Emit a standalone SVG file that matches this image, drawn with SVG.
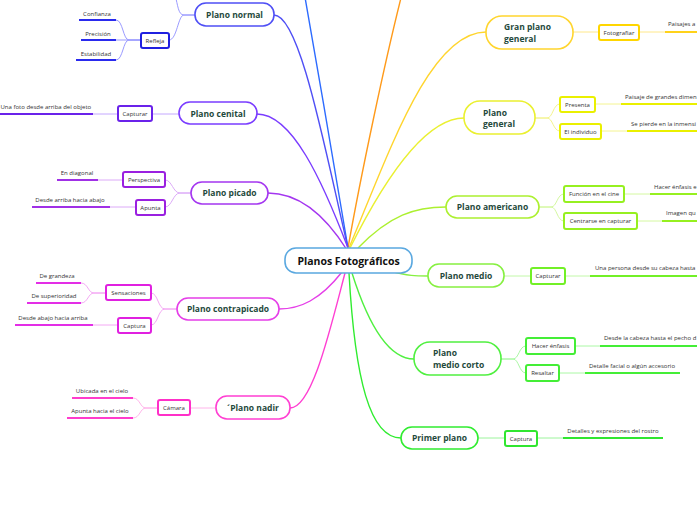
<svg xmlns="http://www.w3.org/2000/svg" width="697" height="520" viewBox="0 0 697 520">
<style>
.bg{fill:#fff}
.m{fill:#fff;stroke-width:1.6}
.s{fill:#fff;stroke-width:2}
.mt{font-family:"Open Sans","Noto Sans",sans-serif;font-weight:700;font-size:8.5px;fill:#1f4a3c;text-anchor:middle}
.ml{font-family:"Open Sans","Noto Sans",sans-serif;font-weight:700;font-size:8.5px;fill:#1f4a3c}
.ct{font-family:"Open Sans","Noto Sans",sans-serif;font-size:6px;fill:#333;text-anchor:middle}
.lt{font-family:"Open Sans","Noto Sans",sans-serif;font-size:6px;fill:#333;text-anchor:middle}
.ls{font-family:"Open Sans","Noto Sans",sans-serif;font-size:6px;fill:#333}
.c{fill:none;stroke-width:1.4}
.f{fill:none;stroke-width:1}
.u{fill:none;stroke-width:2}
</style>
<rect class="bg" x="0" y="0" width="697" height="520"/>
<g id="connectors">
  <!-- main branches -->
  <path class="c" stroke="#ff9a1a" d="M348,248 C360,180 385,60 403,-10"/>
  <path class="c" stroke="#2d6bff" d="M348,248 C336,175 316,60 302,-20"/>
  <path class="c" stroke="#4f4ff5" d="M348,248 C325,150 300,15 274,15"/>
  <path class="c" stroke="#7a3cff" d="M348,248 C322,180 292,114 257,114"/>
  <path class="c" stroke="#a436f0" d="M347,250 C325,215 300,193 268,193"/>
  <path class="c" stroke="#e53ee8" d="M342,272 C320,300 300,309 279,309"/>
  <path class="c" stroke="#ff3fd2" d="M345,273 C330,330 312,408 290,408"/>
  <path class="c" stroke="#ffd52e" d="M349,248 C390,150 430,32 486,32"/>
  <path class="c" stroke="#eaf030" d="M350,248 C385,178 425,118 464,118"/>
  <path class="c" stroke="#acf030" d="M358,248 C390,215 415,207 446,207"/>
  <path class="c" stroke="#86f040" d="M390,271 C408,276 416,276 428,276"/>
  <path class="c" stroke="#50f040" d="M352,273 C370,330 390,359 414,359"/>
  <path class="c" stroke="#30ec30" d="M349,273 C355,380 370,438 401,438"/>

  <!-- Plano normal -->
  <path class="f" stroke="#9a9aff" d="M195,15 L184,15 C178,15 178,5 175,-5"/>
  <path class="f" stroke="#9a9aff" d="M195,15 L184,15 C178,15 177,40 169,40"/>
  <path class="f" stroke="#9a9aff" d="M141,40 L129,40 C123,40 123,20 116,20"/>
  <path class="f" stroke="#9a9aff" d="M141,40 L116,40"/>
  <path class="f" stroke="#9a9aff" d="M141,40 L129,40 C123,40 123,60 116,60"/>
  <path class="u" stroke="#2a2aee" d="M79,20 H116 M81,40 H116 M76,60 H116"/>

  <!-- Plano cenital -->
  <path class="f" stroke="#c4a8ff" d="M179,114 H152 M118,114 H93"/>
  <path class="u" stroke="#6a22ea" d="M0,114 H93"/>

  <!-- Plano picado -->
  <path class="f" stroke="#dcaaf8" d="M191,193 L180,193 C173,193 172,180 165,180"/>
  <path class="f" stroke="#dcaaf8" d="M191,193 L180,193 C173,193 172,207 165,207"/>
  <path class="f" stroke="#dcaaf8" d="M123,180 H98 M136,207 H110"/>
  <path class="u" stroke="#a030e6" d="M57,180 H98 M32,207 H110"/>

  <!-- Plano contrapicado -->
  <path class="f" stroke="#f4a8f4" d="M177,309 L165,309 C158,309 158,293 151,293"/>
  <path class="f" stroke="#f4a8f4" d="M177,309 L165,309 C158,309 158,325 151,325"/>
  <path class="f" stroke="#f4a8f4" d="M106,293 L94,293 C88,293 88,283 81,283"/>
  <path class="f" stroke="#f4a8f4" d="M106,293 L94,293 C88,293 88,303 81,303"/>
  <path class="f" stroke="#f4a8f4" d="M118,325 H93"/>
  <path class="u" stroke="#e32ee6" d="M36,283 H81 M27,303 H81 M15,325 H93"/>

  <!-- Plano nadir -->
  <path class="f" stroke="#ffb4ea" d="M216,408 H190"/>
  <path class="f" stroke="#ffb4ea" d="M158,408 L146,408 C140,408 140,398 133,398"/>
  <path class="f" stroke="#ffb4ea" d="M158,408 L146,408 C140,408 140,418 133,418"/>
  <path class="u" stroke="#ff3ccc" d="M72,398 H133 M67,418 H133"/>

  <!-- Gran plano general -->
  <path class="f" stroke="#ffe88a" d="M573,32 H599 M639,32 H665"/>
  <path class="u" stroke="#ffd21a" d="M665,32 H700"/>

  <!-- Plano general -->
  <path class="f" stroke="#f4f490" d="M535,118 L547,118 C553,118 553,104 560,104"/>
  <path class="f" stroke="#f4f490" d="M535,118 L547,118 C553,118 553,131 560,131"/>
  <path class="f" stroke="#f4f490" d="M595,104 H621 M601,131 H627"/>
  <path class="u" stroke="#eaf000" d="M621,104 H700 M627,131 H700"/>

  <!-- Plano americano -->
  <path class="f" stroke="#d4f8a0" d="M539,207 L551,207 C557,207 557,194 564,194"/>
  <path class="f" stroke="#d4f8a0" d="M539,207 L551,207 C557,207 557,221 564,221"/>
  <path class="f" stroke="#d4f8a0" d="M624,194 H650 M637,221 H662"/>
  <path class="u" stroke="#96f020" d="M650,194 H700 M662,221 H700"/>

  <!-- Plano medio -->
  <path class="f" stroke="#c2f8a8" d="M504,276 H531 M565,276 H590"/>
  <path class="u" stroke="#72f026" d="M590,276 H700"/>

  <!-- Plano medio corto -->
  <path class="f" stroke="#aaf8a4" d="M501,359 L513,359 C519,359 519,346 526,346"/>
  <path class="f" stroke="#aaf8a4" d="M501,359 L513,359 C519,359 519,373 526,373"/>
  <path class="f" stroke="#aaf8a4" d="M575,346 H600 M559,373 H585"/>
  <path class="u" stroke="#44ee36" d="M600,346 H700 M585,373 H680"/>

  <!-- Primer plano -->
  <path class="f" stroke="#9cf49c" d="M478,438 H505 M537,438 H563"/>
  <path class="u" stroke="#30e630" d="M563,438 H663"/>
</g>

<g id="center">
  <rect class="m" x="285" y="248" width="127" height="25" rx="11" stroke="#5aa8e0"/>
  <text x="348.5" y="264.5" font-family="'Open Sans','Noto Sans',sans-serif" font-weight="700" font-size="10.5" fill="#111" text-anchor="middle">Planos Fotográficos</text>
</g>

<g id="plano-normal">
  <rect class="m" x="195" y="3" width="79" height="23" rx="11" stroke="#4f4ff5"/>
  <text class="mt" x="234.5" y="18">Plano normal</text>
  <g id="refleja">
    <rect class="s" x="141" y="33" width="28" height="15" rx="2" stroke="#2020e0"/>
    <text class="ct" x="155" y="42.5">Refleja</text>
  </g>
  <text class="lt" x="97" y="15.5">Confianza</text>
  <text class="lt" x="98" y="35.5">Precisión</text>
  <text class="lt" x="96" y="55.5">Estabilidad</text>
</g>

<g id="plano-cenital">
  <rect class="m" x="179" y="102" width="78" height="22" rx="11" stroke="#7a3cff"/>
  <text class="mt" x="218" y="116.5">Plano cenital</text>
  <rect class="s" x="118" y="106" width="34" height="15" rx="2" stroke="#6a22ea"/>
  <text class="ct" x="135" y="115.5">Capturar</text>
  <text class="ls" x="0.5" y="109">Una foto desde arriba del objeto</text>
</g>

<g id="plano-picado">
  <rect class="m" x="191" y="182" width="77" height="22" rx="11" stroke="#a436f0"/>
  <text class="mt" x="229.5" y="196">Plano picado</text>
  <rect class="s" x="123" y="172" width="42" height="15" rx="2" stroke="#9a20e0"/>
  <text class="ct" x="144" y="181.5">Perspectiva</text>
  <rect class="s" x="136" y="200" width="29" height="15" rx="2" stroke="#9a20e0"/>
  <text class="ct" x="150.5" y="209.5">Apunta</text>
  <text class="lt" x="77" y="175">En diagonal</text>
  <text class="lt" x="70" y="202">Desde arriba hacia abajo</text>
</g>

<g id="plano-contrapicado">
  <rect class="m" x="177" y="298" width="102" height="22" rx="11" stroke="#e53ee8"/>
  <text class="mt" x="228" y="312">Plano contrapicado</text>
  <rect class="s" x="106" y="285" width="45" height="15" rx="2" stroke="#e020e0"/>
  <text class="ct" x="128.5" y="294.5">Sensaciones</text>
  <rect class="s" x="118" y="318" width="33" height="15" rx="2" stroke="#e020e0"/>
  <text class="ct" x="134.5" y="327.5">Captura</text>
  <text class="lt" x="57" y="278">De grandeza</text>
  <text class="lt" x="54" y="298">De superioridad</text>
  <text class="lt" x="53" y="320">Desde abajo hacia arriba</text>
</g>

<g id="plano-nadir">
  <rect class="m" x="216" y="396" width="74" height="23" rx="11" stroke="#ff3fd2"/>
  <text class="mt" x="253" y="411">´Plano nadir</text>
  <rect class="s" x="158" y="400" width="32" height="15" rx="2" stroke="#ff30c8"/>
  <text class="ct" x="174" y="409.5">Cámara</text>
  <text class="lt" x="102" y="393">Ubicada en el cielo</text>
  <text class="lt" x="100" y="413">Apunta hacia el cielo</text>
</g>

<g id="gran-plano-general">
  <rect class="m" x="486" y="16" width="87" height="33" rx="16" stroke="#ffd52e"/>
  <text class="ml" x="504" y="30">Gran plano</text>
  <text class="ml" x="504" y="41.5">general</text>
  <rect class="s" x="599" y="25" width="40" height="15" rx="2" stroke="#ffd600"/>
  <text class="ct" x="619" y="34.5">Fotografiar</text>
  <text class="ls" x="668" y="26">Paisajes a</text>
</g>

<g id="plano-general">
  <rect class="m" x="464" y="101" width="71" height="33" rx="16" stroke="#eaf030"/>
  <text class="ml" x="483" y="115.5">Plano</text>
  <text class="ml" x="483" y="127">general</text>
  <rect class="s" x="560" y="97" width="35" height="15" rx="2" stroke="#eaf000"/>
  <text class="ct" x="577.5" y="106.5">Presenta</text>
  <rect class="s" x="560" y="124" width="41" height="15" rx="2" stroke="#eaf000"/>
  <text class="ct" x="580.5" y="133.5">El individuo</text>
  <text class="ls" x="625" y="99">Paisaje de grandes dimen</text>
  <text class="ls" x="631" y="126">Se pierde en la inmensi</text>
</g>

<g id="plano-americano">
  <rect class="m" x="446" y="196" width="93" height="22" rx="11" stroke="#acf030"/>
  <text class="mt" x="492.5" y="210">Plano americano</text>
  <rect class="s" x="564" y="186" width="60" height="16" rx="2" stroke="#96f020"/>
  <text class="ct" x="594" y="196">Función en el cine</text>
  <rect class="s" x="564" y="213" width="73" height="16" rx="2" stroke="#96f020"/>
  <text class="ct" x="600.5" y="223">Centrarse en capturar</text>
  <text class="ls" x="654" y="189">Hacer énfasis e</text>
  <text class="ls" x="666" y="215">Imagen qu</text>
</g>

<g id="plano-medio">
  <rect class="m" x="428" y="264" width="76" height="23" rx="11" stroke="#86f040"/>
  <text class="mt" x="466" y="279">Plano medio</text>
  <rect class="s" x="531" y="268" width="34" height="16" rx="2" stroke="#72f026"/>
  <text class="ct" x="548" y="278">Capturar</text>
  <text class="ls" x="595" y="270">Una persona desde su cabeza hasta</text>
</g>

<g id="plano-medio-corto">
  <rect class="m" x="414" y="342" width="87" height="33" rx="16" stroke="#50f040"/>
  <text class="ml" x="433" y="356">Plano</text>
  <text class="ml" x="433" y="368">medio corto</text>
  <rect class="s" x="526" y="338" width="49" height="16" rx="2" stroke="#44ee36"/>
  <text class="ct" x="550.5" y="348">Hacer énfasis</text>
  <rect class="s" x="526" y="365" width="33" height="16" rx="2" stroke="#44ee36"/>
  <text class="ct" x="542.5" y="375">Resaltar</text>
  <text class="ls" x="604" y="340">Desde la cabeza hasta el pecho d</text>
  <text class="lt" x="632" y="368">Detalle facial o algún accesorio</text>
</g>

<g id="primer-plano">
  <rect class="m" x="401" y="427" width="77" height="22" rx="11" stroke="#30ec30"/>
  <text class="mt" x="439.5" y="441">Primer plano</text>
  <rect class="s" x="505" y="431" width="32" height="15" rx="2" stroke="#30e630"/>
  <text class="ct" x="521" y="440.5">Captura</text>
  <text class="lt" x="613" y="433">Detalles y expresiones del rostro</text>
</g>
</svg>
